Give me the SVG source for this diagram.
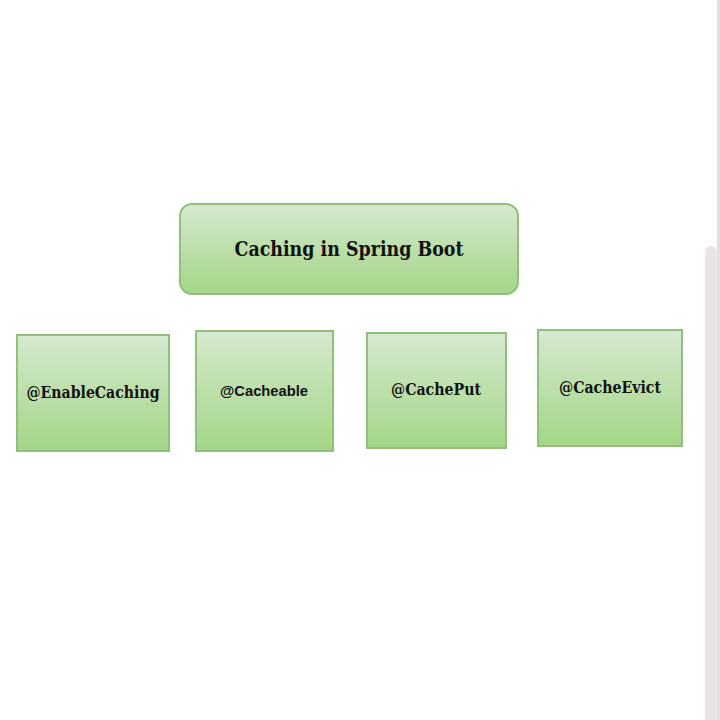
<svg xmlns="http://www.w3.org/2000/svg" width="720" height="720" viewBox="0 0 720 720">
<defs>
<linearGradient id="g" x1="0" y1="0" x2="0" y2="1">
<stop offset="0" stop-color="#d6e9d0"/>
<stop offset="0.45" stop-color="#bfe0ae"/>
<stop offset="1" stop-color="#a3d687"/>
</linearGradient>
</defs>
<style>
.box{fill:url(#g);stroke:#93bf7e;stroke-width:2}
.serif{font-family:"DejaVu Serif","Liberation Serif",serif;font-weight:bold;fill:#111;text-anchor:middle}
.sans{font-family:"Liberation Sans",Arial,sans-serif;font-weight:bold;fill:#111;text-anchor:middle}
</style>
<rect width="720" height="720" fill="#ffffff"/>
<rect x="717" y="0" width="3" height="720" fill="#e2e0e2"/>
<path d="M705,252 a6,6 0 0 1 12,0 V720 H705 Z" fill="#e8e4e8"/>
<g id="connectors"></g>
<g id="root">
<rect class="box" x="180" y="204" width="338" height="90" rx="12"/>
<text class="serif" x="349" y="256" font-size="21" textLength="229" lengthAdjust="spacingAndGlyphs">Caching in Spring Boot</text>
</g>
<g id="enablecaching">
<rect class="box" x="17" y="335" width="152" height="116"/>
<text class="serif" x="93" y="398" font-size="16.5" textLength="133" lengthAdjust="spacingAndGlyphs">@EnableCaching</text>
</g>
<g id="cacheable">
<rect class="box" x="196" y="331" width="137" height="120"/>
<text class="sans" x="264" y="396" font-size="15" textLength="88" lengthAdjust="spacingAndGlyphs">@Cacheable</text>
</g>
<g id="cacheput">
<rect class="box" x="367" y="333" width="139" height="115"/>
<text class="serif" x="436" y="395" font-size="16.5" textLength="90" lengthAdjust="spacingAndGlyphs">@CachePut</text>
</g>
<g id="cacheevict">
<rect class="box" x="538" y="330" width="144" height="116"/>
<text class="serif" x="610" y="393" font-size="16.5" textLength="102" lengthAdjust="spacingAndGlyphs">@CacheEvict</text>
</g>
</svg>
